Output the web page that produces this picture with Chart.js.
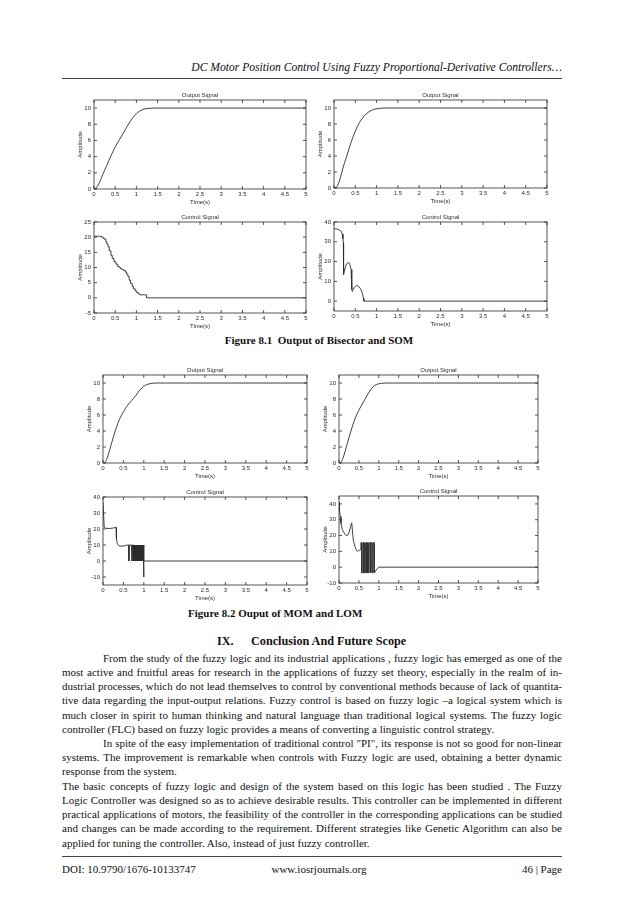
<!DOCTYPE html>
<html>
<head>
<meta charset="utf-8">
<script src="https://cdn.jsdelivr.net/npm/chart.js@4.4.0/dist/chart.umd.min.js"></script>
<style>
html, body { margin: 0; padding: 0; background: #fff; }
body { width: 638px; height: 902px; position: relative; overflow: hidden; font-family: 'Liberation Serif', 'Times New Roman', serif; color: #111; }
.abs { position: absolute; white-space: pre; }
.ln { position: absolute; left: 62px; width: 500px; font-size: 11px; line-height: 14px; text-align: justify; text-align-last: justify; }
.ln.ind { left: 103px; width: 459px; }
.ln.last { text-align-last: left; }
.rule { position: absolute; left: 62px; width: 500px; height: 0; border-top: 1px solid #444; }
canvas { position: absolute; }
</style>
</head>
<body>

<div class="abs" style="left:62px;width:500px;top:61px;text-align:right;font-style:italic;font-size:11.6px;">DC Motor Position Control Using Fuzzy Proportional-Derivative Controllers…</div>
<div class="rule" style="top:78px;"></div>

<canvas id="bisOut"></canvas>
<canvas id="bisCtl"></canvas>
<canvas id="somOut"></canvas>
<canvas id="somCtl"></canvas>
<div class="abs" style="left:0;width:638px;top:334px;text-align:center;font-weight:bold;font-size:11px;">Figure 8.1  Output of Bisector and SOM</div>

<canvas id="momOut"></canvas>
<canvas id="momCtl"></canvas>
<canvas id="lomOut"></canvas>
<canvas id="lomCtl"></canvas>
<div class="abs" style="left:188px;top:607px;font-weight:bold;font-size:11px;">Figure 8.2 Ouput of MOM and LOM</div>

<div class="abs" style="left:217px;top:634px;font-weight:bold;font-size:12.2px;">IX.</div>
<div class="abs" style="left:251px;top:634px;font-weight:bold;font-size:12.2px;">Conclusion And Future Scope</div>

<div class="ln ind" style="top:651px;">From the study of the fuzzy logic and its industrial applications , fuzzy logic has emerged as one of the</div>
<div class="ln" style="top:665px;">most active and fruitful areas for research in the applications of fuzzy set theory, especially in the realm of in-</div>
<div class="ln" style="top:679px;">dustrial processes, which do not lead themselves to control by conventional methods because of lack of quantita-</div>
<div class="ln" style="top:693px;">tive data regarding the input-output relations. Fuzzy control is based on fuzzy logic –a logical system which is</div>
<div class="ln" style="top:707.5px;">much closer in spirit to human thinking and natural language than traditional logical systems. The fuzzy logic</div>
<div class="ln last" style="top:722px;">controller (FLC) based on fuzzy logic provides a means of converting a linguistic control strategy.</div>
<div class="ln ind" style="top:736px;">In spite of the easy implementation of traditional control "PI", its response is not so good for non-linear</div>
<div class="ln" style="top:750px;">systems. The improvement is remarkable when controls with Fuzzy logic are used, obtaining a better dynamic</div>
<div class="ln last" style="top:764px;">response from the system.</div>
<div class="ln" style="top:779px;">The basic concepts of fuzzy logic and design of the system based on this logic has been studied . The Fuzzy</div>
<div class="ln" style="top:793px;">Logic Controller was designed so as to achieve desirable results. This controller can be implemented in different</div>
<div class="ln" style="top:807px;">practical applications of motors, the feasibility of the controller in the corresponding applications can be studied</div>
<div class="ln" style="top:821px;">and changes can be made according to the requirement. Different strategies like Genetic Algorithm can also be</div>
<div class="ln last" style="top:836px;">applied for tuning the controller. Also, instead of just fuzzy controller.</div>

<div class="rule" style="top:856px;"></div>
<div class="abs" style="left:62px;top:863px;font-size:11px;">DOI: 10.9790/1676-10133747</div>
<div class="abs" style="left:0;width:638px;top:863px;text-align:center;font-size:11px;">www.iosrjournals.org</div>
<div class="abs" style="left:62px;width:500px;top:863px;text-align:right;font-size:11px;">46 | Page</div>

<script>
// Figure 8.1 - Bisector
const bisOutT = [0, 0.05, 0.1, 0.15, 0.2, 0.3, 0.4, 0.5, 0.6, 0.7, 0.8, 0.9, 1.0, 1.1, 1.2, 1.3, 1.4, 1.6, 2, 3, 5];
const bisOutY = [0, 0.12, 0.5, 1.05, 1.7, 2.9, 4.1, 5.2, 6.1, 7.0, 7.9, 8.7, 9.3, 9.7, 9.9, 9.97, 10, 10, 10, 10, 10];
const bisCtlT = [0, 0.15, 0.18, 0.22, 0.25, 0.28, 0.3, 0.33, 0.36, 0.4, 0.43, 0.47, 0.5, 0.53, 0.56, 0.6, 0.63, 0.67, 0.7, 0.74, 0.77, 0.8, 0.83, 0.86, 0.9, 0.93, 0.97, 1.0, 1.04, 1.08, 1.22, 1.24, 5];
const bisCtlY = [20.3, 20.3, 20, 19.6, 19.3, 18.5, 17.8, 16.8, 15.5, 14, 13, 12, 11.5, 11, 10.3, 10, 9.5, 9.3, 9, 8.5, 7.8, 7, 5.8, 4.8, 3.8, 3, 2.3, 1.8, 1.3, 1, 1, 0, 0];

// Figure 8.1 - SOM
const somOutT = [0, 0.05, 0.1, 0.15, 0.2, 0.25, 0.3, 0.4, 0.5, 0.6, 0.7, 0.8, 0.9, 1.0, 1.1, 1.2, 1.5, 2, 5];
const somOutY = [0, 0.08, 0.5, 1.3, 2.3, 3.2, 4.0, 5.7, 7.1, 8.2, 8.95, 9.45, 9.75, 9.9, 9.97, 10, 10, 10, 10];
const somCtlT = [0, 0.05, 0.1, 0.14, 0.17, 0.19, 0.21, 0.22, 0.225, 0.24, 0.27, 0.3, 0.33, 0.36, 0.38, 0.4, 0.415, 0.42, 0.425, 0.44, 0.47, 0.5, 0.53, 0.56, 0.59, 0.62, 0.65, 0.67, 0.69, 0.7, 5];
const somCtlY = [36.6, 36.5, 36.2, 35.8, 35.3, 34, 31.5, 29.5, 13.5, 15, 17.5, 19, 19.5, 19.2, 18, 16, 14.5, 6, 5, 5.5, 6.8, 7.5, 7.8, 7.7, 7.2, 6.3, 5, 3.5, 1.5, 0, 0];

// Figure 8.2 - MOM
const momOutT = [0, 0.05, 0.1, 0.15, 0.2, 0.3, 0.4, 0.5, 0.6, 0.7, 0.8, 0.9, 1.0, 1.1, 1.2, 1.3, 1.5, 2, 5];
const momOutY = [0, 0.08, 0.6, 1.4, 2.3, 4.0, 5.4, 6.4, 7.2, 7.8, 8.4, 9.1, 9.6, 9.85, 9.95, 10, 10, 10, 10];
const momCtlT = [0, 0.02, 0.03, 0.06, 0.15, 0.25, 0.3, 0.32, 0.33, 0.35, 0.38, 0.42, 0.5, 0.58, 0.6,
  0.63, 0.635, 0.64, 0.7, 0.705, 0.71, 0.725, 0.73, 0.735, 0.75, 0.755, 0.76, 0.775, 0.78, 0.785,
  0.8, 0.805, 0.81, 0.825, 0.83, 0.835, 0.85, 0.855, 0.86, 0.875, 0.88, 0.885, 0.9, 0.905, 0.91,
  0.925, 0.93, 0.935, 0.95, 0.955, 0.96, 0.975, 0.98, 0.985, 0.998, 1.0, 1.003, 5];
const momCtlY = [37, 37, 21, 20.5, 20.3, 20.6, 21, 21, 14, 11, 9.8, 9.3, 9.4, 9.8, 10,
  10, 0, 10, 10, 0, 10, 10, 0, 10, 10, 0, 10, 10, 0, 10,
  10, 0, 10, 10, 0, 10, 10, 0, 10, 10, 0, 10, 10, 0, 10,
  10, 0, 10, 10, 0, 10, 10, 0, 10, 10, -10, 0, 0];

// Figure 8.2 - LOM
const lomOutT = [0, 0.05, 0.1, 0.15, 0.2, 0.3, 0.4, 0.5, 0.6, 0.7, 0.8, 0.9, 1.0, 1.1, 1.2, 1.5, 2, 5];
const lomOutY = [0, 0.08, 0.6, 1.4, 2.3, 4.0, 5.5, 6.6, 7.5, 8.4, 9.2, 9.7, 9.9, 9.97, 10, 10, 10, 10];
const lomCtlT = [0, 0.005, 0.01, 0.02, 0.03, 0.05, 0.08, 0.12, 0.16, 0.2, 0.23, 0.26, 0.29, 0.31, 0.32, 0.33, 0.36, 0.4, 0.44, 0.47, 0.5, 0.53,
  0.55, 0.55, 0.57, 0.57, 0.6, 0.6, 0.62, 0.62, 0.64, 0.64, 0.65, 0.65, 0.67, 0.67, 0.68, 0.68, 0.7, 0.7,
  0.71, 0.71, 0.73, 0.73, 0.74, 0.74, 0.76, 0.76, 0.78, 0.78, 0.8, 0.8, 0.83, 0.83, 0.86, 0.86, 0.88, 0.88,
  0.9, 0.95, 1.0, 5];
const lomCtlY = [40, 41, 40, 36, 32, 27.5, 24, 22, 20.5, 20, 20.5, 22.5, 25.5, 27.5, 28, 25, 17, 13, 10.5, 10, 10.5, 11,
  12, 15.5, 15.5, -3.5, -3.5, 15.5, 15.5, -3.5, -3.5, 15.5, 15.5, -3.5, -3.5, 15.5, 15.5, -3.5, -3.5, 15.5,
  15.5, -3.5, -3.5, 15.5, 15.5, -3.5, -3.5, 15.5, 15.5, -3.5, -3.5, 15.5, 15.5, -3.5, -3.5, 15.5, 15.5, -3.5,
  -3.5, -1.2, 0, 0];

// Axis tick values
const timeTicks = [0, 0.5, 1, 1.5, 2, 2.5, 3, 3.5, 4, 4.5, 5];

// plot boxes on the page (left, top, right, bottom)
const boxes = {
  bisOut: { l: 94, t: 100, r: 306, b: 189 },
  bisCtl: { l: 94, t: 222, r: 306, b: 313 },
  somOut: { l: 334, t: 100, r: 547, b: 188 },
  somCtl: { l: 334, t: 222, r: 547, b: 311 },
  momOut: { l: 103, t: 375, r: 307, b: 463 },
  momCtl: { l: 103, t: 497, r: 307, b: 585 },
  lomOut: { l: 339, t: 375, r: 538, b: 463 },
  lomCtl: { l: 339, t: 496, r: 538, b: 583 }
};

const AX_LEFT = 18, AX_BOTTOM = 18, PAD_TOP = 12, PAD_RIGHT = 6;
const tickFont = { family: "'Liberation Sans Narrow', 'Liberation Sans', Arial, sans-serif", size: 6 };
const ink = '#2b2b2b';

// shrink a body line until it stays on one line, so justification matches the page
document.querySelectorAll('.ln').forEach(el => {
  let size = 11;
  while (el.offsetHeight > 20 && size > 9) {
    size -= 0.1;
    el.style.fontSize = size + 'px';
  }
});

// MATLAB-like box with inward ticks and a small title
const matlabFrame = {
  id: 'matlabFrame',
  afterDraw(chart, args, opts) {
    const { ctx, chartArea: a, scales: { x, y } } = chart;
    ctx.save();
    ctx.strokeStyle = ink;
    ctx.lineWidth = 0.8;
    ctx.strokeRect(a.left, a.top, a.right - a.left, a.bottom - a.top);
    ctx.beginPath();
    x.ticks.forEach(t => {
      const px = x.getPixelForValue(t.value);
      ctx.moveTo(px, a.bottom); ctx.lineTo(px, a.bottom - 3);
      ctx.moveTo(px, a.top); ctx.lineTo(px, a.top + 3);
    });
    y.ticks.forEach(t => {
      const py = y.getPixelForValue(t.value);
      ctx.moveTo(a.left, py); ctx.lineTo(a.left + 3, py);
      ctx.moveTo(a.right, py); ctx.lineTo(a.right - 3, py);
    });
    ctx.stroke();
    ctx.fillStyle = ink;
    ctx.font = "6px 'Liberation Sans Narrow', 'Liberation Sans', Arial, sans-serif";
    ctx.textAlign = 'center';
    ctx.textBaseline = 'middle';
    ctx.fillText(opts.text, (a.left + a.right) / 2, a.top - 5);
    ctx.restore();
  }
};

function drawPlot(id, title, xs, ys, yMin, yMax, yStep, mode) {
  const box = boxes[id];
  const cv = document.getElementById(id);
  const w = box.r - box.l + AX_LEFT + PAD_RIGHT;
  const h = box.b - box.t + PAD_TOP + AX_BOTTOM;
  cv.width = w;
  cv.height = h;
  cv.style.width = w + 'px';
  cv.style.height = h + 'px';
  cv.style.left = (box.l - AX_LEFT) + 'px';
  cv.style.top = (box.t - PAD_TOP) + 'px';

  new Chart(cv.getContext('2d'), {
    type: 'line',
    data: {
      datasets: [{
        data: xs.map((t, i) => ({ x: t, y: ys[i] })),
        borderColor: ink,
        borderWidth: 0.9,
        pointRadius: 0,
        fill: false,
        cubicInterpolationMode: mode === 'smooth' ? 'monotone' : 'default',
        stepped: mode === 'stepped',
        tension: 0
      }]
    },
    options: {
      responsive: false,
      animation: false,
      layout: { padding: { top: PAD_TOP, right: PAD_RIGHT, left: 0, bottom: 0 } },
      plugins: {
        legend: { display: false },
        tooltip: { enabled: false },
        matlabFrame: { text: title }
      },
      scales: {
        x: {
          type: 'linear',
          min: 0,
          max: 5,
          afterBuildTicks: s => { s.ticks = timeTicks.map(v => ({ value: v })); },
          afterFit: s => { s.height = AX_BOTTOM; },
          grid: { display: false, drawTicks: false },
          border: { display: false },
          ticks: { font: tickFont, color: ink, padding: 2, maxRotation: 0, autoSkip: false, callback: v => String(v) },
          title: { display: true, text: 'Time(s)', font: tickFont, color: ink, padding: { top: 0, bottom: 1 } }
        },
        y: {
          min: yMin,
          max: yMax,
          afterFit: s => { s.width = AX_LEFT; },
          grid: { display: false, drawTicks: false },
          border: { display: false },
          ticks: { stepSize: yStep, includeBounds: false, font: tickFont, color: ink, padding: 3, callback: v => String(v) },
          title: { display: true, text: 'Amplitude', font: tickFont, color: ink, padding: { top: 1, bottom: 0 } }
        }
      }
    },
    plugins: [matlabFrame]
  });
}

drawPlot('bisOut', 'Output Signal', bisOutT, bisOutY, 0, 11, 2, 'smooth');
drawPlot('bisCtl', 'Control Signal', bisCtlT, bisCtlY, -5, 25, 5, 'stepped');
drawPlot('somOut', 'Output Signal', somOutT, somOutY, 0, 11, 2, 'smooth');
drawPlot('somCtl', 'Control Signal', somCtlT, somCtlY, -5, 40, 10, 'linear');
drawPlot('momOut', 'Output Signal', momOutT, momOutY, 0, 11, 2, 'smooth');
drawPlot('momCtl', 'Control Signal', momCtlT, momCtlY, -15, 40, 10, 'linear');
drawPlot('lomOut', 'Output Signal', lomOutT, lomOutY, 0, 11, 2, 'smooth');
drawPlot('lomCtl', 'Control Signal', lomCtlT, lomCtlY, -10, 45, 10, 'linear');
</script>
</body>
</html>
